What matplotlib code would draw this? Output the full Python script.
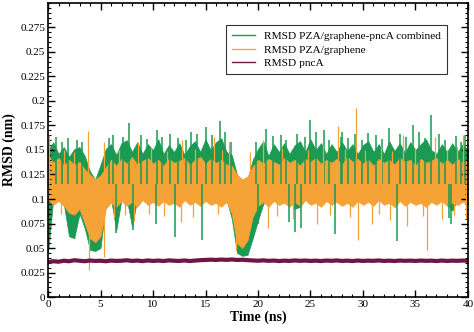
import numpy as np
import matplotlib.pyplot as plt
from matplotlib.ticker import MultipleLocator

## Data (RMSD in nm, every 0.5 ns from 0 to 40 ns)
time = np.arange(0, 40.5, 0.5)

green_hi = [0.150, 0.158, 0.146, 0.153, 0.143, 0.151, 0.153, 0.144, 0.128, 0.120,
            0.135, 0.151, 0.156, 0.145, 0.157, 0.160, 0.148, 0.158, 0.146, 0.156,
            0.150, 0.161, 0.146, 0.155, 0.148, 0.157, 0.145, 0.154, 0.159, 0.148,
            0.161, 0.150, 0.158, 0.162, 0.148, 0.145, 0.125, 0.118, 0.120, 0.140,
            0.151, 0.159, 0.144, 0.156, 0.148, 0.157, 0.146, 0.155, 0.159, 0.148,
            0.161, 0.150, 0.157, 0.146, 0.156, 0.148, 0.158, 0.149, 0.156, 0.146,
            0.155, 0.159, 0.148, 0.156, 0.146, 0.159, 0.149, 0.157, 0.147, 0.158,
            0.150, 0.156, 0.161, 0.150, 0.146, 0.156, 0.148, 0.157, 0.148, 0.156,
            0.150]
green_lo = [0.045, 0.100, 0.100, 0.095, 0.062, 0.060, 0.085, 0.070, 0.048, 0.047,
            0.050, 0.095, 0.100, 0.068, 0.100, 0.100, 0.072, 0.100, 0.100, 0.100,
            0.100, 0.100, 0.100, 0.100, 0.100, 0.100, 0.100, 0.100, 0.100, 0.100,
            0.100, 0.100, 0.100, 0.100, 0.100, 0.080, 0.045, 0.042, 0.043, 0.060,
            0.078, 0.095, 0.100, 0.100, 0.100, 0.100, 0.100, 0.090, 0.092, 0.100,
            0.100, 0.100, 0.100, 0.100, 0.100, 0.100, 0.100, 0.100, 0.100, 0.100,
            0.100, 0.100, 0.100, 0.100, 0.100, 0.100, 0.092, 0.100, 0.100, 0.100,
            0.100, 0.100, 0.100, 0.100, 0.100, 0.100, 0.095, 0.088, 0.100, 0.100,
            0.100]

orange_hi = [0.145, 0.137, 0.142, 0.134, 0.140, 0.135, 0.138, 0.130, 0.125, 0.120,
             0.124, 0.132, 0.140, 0.134, 0.141, 0.136, 0.143, 0.135, 0.139, 0.142,
             0.136, 0.140, 0.134, 0.141, 0.137, 0.139, 0.142, 0.135, 0.140, 0.143,
             0.136, 0.141, 0.137, 0.140, 0.135, 0.134, 0.125, 0.120, 0.123, 0.133,
             0.140, 0.136, 0.141, 0.138, 0.135, 0.142, 0.137, 0.140, 0.134, 0.141,
             0.138, 0.142, 0.136, 0.140, 0.137, 0.141, 0.135, 0.143, 0.138, 0.141,
             0.136, 0.140, 0.134, 0.141, 0.137, 0.140, 0.135, 0.142, 0.138, 0.140,
             0.134, 0.141, 0.137, 0.139, 0.142, 0.136, 0.140, 0.135, 0.141, 0.137,
             0.140]
orange_lo = [0.100, 0.094, 0.098, 0.093, 0.086, 0.084, 0.090, 0.075, 0.060, 0.056,
             0.062, 0.090, 0.096, 0.092, 0.098, 0.093, 0.097, 0.092, 0.099, 0.094,
             0.097, 0.093, 0.098, 0.094, 0.096, 0.092, 0.099, 0.094, 0.097, 0.093,
             0.098, 0.094, 0.096, 0.092, 0.097, 0.085, 0.055, 0.050, 0.058, 0.082,
             0.093, 0.097, 0.092, 0.098, 0.094, 0.096, 0.092, 0.097, 0.093, 0.099,
             0.094, 0.096, 0.092, 0.098, 0.094, 0.097, 0.093, 0.096, 0.092, 0.098,
             0.094, 0.097, 0.093, 0.099, 0.094, 0.096, 0.092, 0.098, 0.093, 0.097,
             0.094, 0.096, 0.092, 0.097, 0.094, 0.098, 0.093, 0.096, 0.094, 0.097,
             0.095]

pnca = [0.0355, 0.0365, 0.036, 0.037, 0.0365, 0.0375, 0.037, 0.0365, 0.0372, 0.0368,
        0.037, 0.0365, 0.0372, 0.0368, 0.037, 0.0375, 0.0368, 0.0372, 0.0366, 0.0373,
        0.0368, 0.0372, 0.0367, 0.0374, 0.037, 0.0368, 0.0373, 0.0367, 0.0372, 0.0376,
        0.0378, 0.0381, 0.0378, 0.0382, 0.0379, 0.0383, 0.0378, 0.038, 0.0376, 0.0373,
        0.037, 0.0374, 0.0369, 0.0372, 0.0367, 0.0371, 0.0368, 0.0373, 0.0369, 0.0372,
        0.0368, 0.0371, 0.0367, 0.0372, 0.0369, 0.0373, 0.0368, 0.0371, 0.0367, 0.0372,
        0.0368, 0.0371, 0.0369, 0.0373, 0.0368, 0.0371, 0.0367, 0.0372, 0.0369, 0.0371,
        0.0368, 0.0372, 0.0369, 0.0371, 0.0367, 0.0372, 0.0368, 0.0371, 0.0369, 0.0372,
        0.0370]

# narrow excursions beyond the bands: (time ns, value nm)
green_spike_t = [0.8, 2.8, 6.5, 7.7, 8.1, 10.3, 10.4, 12.1, 13.6, 14.7, 15.0, 16.4,
                 20.0, 20.8, 22.2, 23.0, 23.5, 24.1, 25.0, 26.3, 27.3, 28.0, 30.5,
                 32.5, 33.2, 34.8, 36.5, 38.2, 38.4, 39.7,
                 1.3, 1.9, 3.2, 5.8, 6.2, 7.1, 8.9, 9.4, 10.9, 11.6, 12.4, 13.1,
                 14.2, 15.6, 16.9, 17.4, 19.8, 21.4, 22.7, 23.7, 24.5, 25.5, 26.8,
                 27.9, 28.6, 29.2, 29.9, 31.2, 31.8, 33.5, 34.1, 35.3, 35.9, 37.2,
                 37.8, 38.9, 39.3]
green_spike_v = [0.163, 0.160, 0.065, 0.178, 0.068, 0.075, 0.170, 0.061, 0.168, 0.058,
                 0.173, 0.180, 0.074, 0.171, 0.165, 0.077, 0.066, 0.070, 0.181, 0.170,
                 0.064, 0.168, 0.167, 0.172, 0.057, 0.176, 0.186, 0.081, 0.075, 0.165,
                 0.158, 0.162, 0.158, 0.162, 0.165, 0.163, 0.165, 0.161, 0.163, 0.166,
                 0.162, 0.160, 0.166, 0.165, 0.168, 0.158, 0.158, 0.164, 0.160, 0.166,
                 0.163, 0.168, 0.160, 0.163, 0.162, 0.166, 0.160, 0.165, 0.161, 0.166,
                 0.163, 0.168, 0.162, 0.166, 0.160, 0.164, 0.158]

orange_spike_t = [0.1, 3.85, 3.9, 5.3, 5.35, 8.2, 8.6, 12.7, 12.8, 15.8, 17.2, 17.9,
                  20.5, 21.0, 25.6, 27.6, 29.3, 29.5, 30.9, 33.8, 34.2, 36.1, 36.9,
                  37.5, 39.5,
                  1.5, 2.5, 6.8, 9.8, 11.3, 14.0, 16.6, 19.2, 22.3, 24.8, 26.2, 28.3,
                  30.2, 31.7, 32.8, 35.0, 38.0, 39.0,
                  1.2, 6.3, 7.3, 9.6, 11.0, 13.8, 16.2, 21.8, 23.3, 26.9, 28.8, 31.5,
                  32.6, 35.7, 38.7, 39.8]
orange_spike_v = [0.165, 0.169, 0.028, 0.158, 0.041, 0.078, 0.158, 0.077, 0.160, 0.163,
                  0.158, 0.047, 0.160, 0.070, 0.075, 0.174, 0.1925, 0.058, 0.075, 0.165,
                  0.072, 0.048, 0.163, 0.080, 0.165,
                  0.150, 0.148, 0.150, 0.152, 0.149, 0.151, 0.150, 0.148, 0.152, 0.150,
                  0.154, 0.151, 0.150, 0.153, 0.149, 0.152, 0.150, 0.154,
                  0.085, 0.082, 0.084, 0.085, 0.083, 0.082, 0.085, 0.083, 0.080, 0.084,
                  0.082, 0.085, 0.079, 0.083, 0.084, 0.080]

green = '#1a9a52'
orange = '#f5a237'
purple = '#6e1746'

plt.rcParams['font.family'] = ['Liberation Serif', 'DejaVu Serif']

fig = plt.figure(figsize=(4.74, 3.32), dpi=100)
ax = fig.add_axes([0.1013, 0.1054, 0.886, 0.8856])

# green trace first, orange sits on top of it
ax.fill_between(time, green_lo, green_hi, color=green, lw=0.5, edgecolor=green)
ax.vlines(green_spike_t, 0.115, green_spike_v, color=green, lw=1.1)
ax.fill_between(time, orange_lo, orange_hi, color=orange, lw=0.5, edgecolor=orange)
ax.vlines(orange_spike_t, 0.115, orange_spike_v, color=orange, lw=0.9)
ax.plot(time, pnca, color=purple, lw=3)

# legend handles
ax.plot([], [], color=green, lw=1, label='RMSD PZA/graphene-pncA combined')
ax.plot([], [], color=orange, lw=1, label='RMSD PZA/graphene')
ax.plot([], [], color=purple, lw=1, label='RMSD pncA')
h, l = ax.get_legend_handles_labels()
leg = ax.legend(h[-3:], l[-3:], loc='upper right', bbox_to_anchor=(0.95, 0.925),
                borderaxespad=0, fontsize=8.2, frameon=True, fancybox=False,
                handlelength=2.0, borderpad=0.55, labelspacing=0.3, handletextpad=0.8)
leg.get_frame().set_edgecolor('black')
leg.get_frame().set_linewidth(0.8)

ax.set_xlim(0, 40)
ax.set_ylim(0, 0.3)
ax.xaxis.set_major_locator(MultipleLocator(5))
ax.xaxis.set_minor_locator(MultipleLocator(1))
ax.yaxis.set_minor_locator(MultipleLocator(0.005))
ax.set_yticks(np.arange(0, 0.276, 0.025))
ax.set_yticklabels(['0', '0.025', '0.05', '0.075', '0.1', '0.125', '0.15', '0.175',
                    '0.2', '0.225', '0.25', '0.275'])
ax.tick_params(which='both', direction='in', top=True, right=True, labelsize=8, pad=2)
ax.tick_params(which='major', length=5, width=1)
ax.tick_params(which='minor', length=2.5, width=0.8)
for s in ax.spines.values():
    s.set_linewidth(1.2)

ax.set_xlabel('Time (ns)', fontsize=10, fontweight='bold', labelpad=1)
ax.set_ylabel('RMSD (nm)', fontsize=10, fontweight='bold', labelpad=3)

fig.savefig('out.png', dpi=100)
